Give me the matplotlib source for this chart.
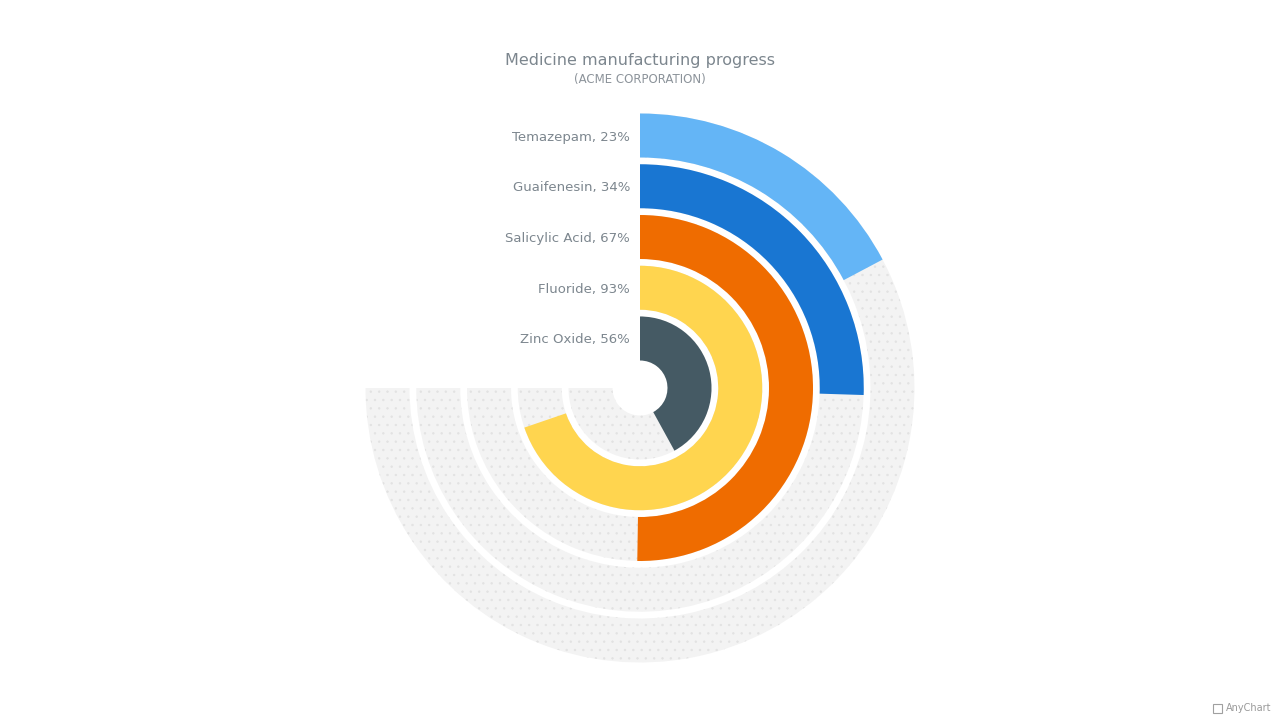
import matplotlib
matplotlib.use("Agg")
import matplotlib.pyplot as plt
from matplotlib.patches import Wedge, Rectangle
import matplotlib as mpl

mpl.rcParams['hatch.linewidth'] = 0.5

names = ["Temazepam", "Guaifenesin", "Salicylic Acid", "Fluoride", "Zinc Oxide"]
values = [23, 34, 67, 93, 56]
colors = ["#64b5f6", "#1976d2", "#ef6c00", "#ffd54f", "#455a64"]

W, H = 1280, 720
fig = plt.figure(figsize=(12.8, 7.2), dpi=100)
ax = fig.add_axes([0, 0, 1, 1])
ax.set_xlim(0, W)
ax.set_ylim(0, H)
ax.axis("off")

cx, cy = 640, H - 388
outer0 = 274.5
step = 50.75
width = 44
sweep = 270

for i, (n, v, c) in enumerate(zip(names, values, colors)):
    r = outer0 - i * step
    track = Wedge((cx, cy), r, 180, 450, width=width, facecolor="#f3f3f3",
                  edgecolor="#e2e2e2", hatch="..", linewidth=0)
    ax.add_patch(track)
    bar = Wedge((cx, cy), r, 90 - v / 100 * sweep, 90, width=width,
                facecolor=c, edgecolor="none", linewidth=0)
    ax.add_patch(bar)
    ax.text(630, cy + r - width / 2 - 1.5, f"{n}, {v}%", ha="right", va="center",
            fontsize=9.5, color="#7c868e")

ax.text(640, H - 60, "Medicine manufacturing progress", ha="center", va="center",
        fontsize=11.5, color="#7c868e")
ax.text(640, H - 80, "(ACME CORPORATION)", ha="center", va="center",
        fontsize=8.5, color="#8c939a")
ax.add_patch(Rectangle((1212.5, H - 713), 9, 9, facecolor="none", edgecolor="#a0a0a0", linewidth=0.8))
ax.text(1271, H - 708, "AnyChart", ha="right", va="center", fontsize=7, color="#9a9a9a")

fig.savefig("out.png", dpi=100, facecolor="white")
